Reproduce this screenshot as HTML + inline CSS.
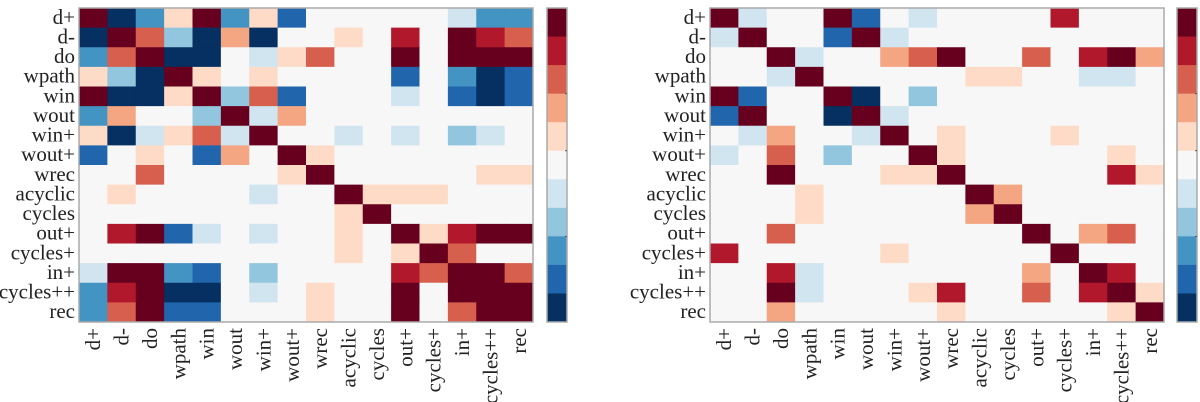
<!DOCTYPE html>
<html><head><meta charset="utf-8"><style>
html,body{margin:0;padding:0;background:#fff;width:1200px;height:402px;overflow:hidden}
svg text{font-family:"Liberation Serif","Times New Roman",Times,"DejaVu Serif",serif;font-size:21px;fill:#222}
</style></head><body>
<svg id="chart" width="1200" height="402" xmlns="http://www.w3.org/2000/svg"></svg>
<script>
const labels=["d+","d-","do","wpath","win","wout","win+","wout+","wrec","acyclic","cycles","out+","cycles+","in+","cycles++","rec"];
const levels=[-5,-4,-3,-2,-1,0,1,2,3,4,5];
const palette=["#053061","#2166ac","#4393c3","#92c5de","#d1e5f0","#f7f7f7","#fddbc7","#f4a582","#d6604d","#b2182b","#67001f"];
const leftMatrix=[
[5,-5,-3,1,5,-3,1,-4,0,0,0,0,0,-1,-3,-3],
[-5,5,3,-2,-5,2,-5,0,0,1,0,4,0,5,4,3],
[-3,3,5,-5,-5,0,-1,1,3,0,0,5,0,5,5,5],
[1,-2,-5,5,1,0,1,0,0,0,0,-4,0,-3,-5,-4],
[5,-5,-5,1,5,-2,3,-4,0,0,0,-1,0,-4,-5,-4],
[-3,2,0,0,-2,5,-1,2,0,0,0,0,0,0,0,0],
[1,-5,-1,1,3,-1,5,0,0,-1,0,-1,0,-2,-1,0],
[-4,0,1,0,-4,2,0,5,1,0,0,0,0,0,0,0],
[0,0,3,0,0,0,0,1,5,0,0,0,0,0,1,1],
[0,1,0,0,0,0,-1,0,0,5,1,1,1,0,0,0],
[0,0,0,0,0,0,0,0,0,1,5,0,0,0,0,0],
[0,4,5,-4,-1,0,-1,0,0,1,0,5,1,4,5,5],
[0,0,0,0,0,0,0,0,0,1,0,1,5,3,0,0],
[-1,5,5,-3,-4,0,-2,0,0,0,0,4,3,5,5,3],
[-3,4,5,-5,-5,0,-1,0,1,0,0,5,0,5,5,5],
[-3,3,5,-4,-4,0,0,0,1,0,0,5,0,3,5,5]];
const rightMatrix=[
[5,-1,0,0,5,-4,0,-1,0,0,0,0,4,0,0,0],
[-1,5,0,0,-4,5,-1,0,0,0,0,0,0,0,0,0],
[0,0,5,-1,0,0,2,3,5,0,0,3,0,4,5,2],
[0,0,-1,5,0,0,0,0,0,1,1,0,0,-1,-1,0],
[5,-4,0,0,5,-5,0,-2,0,0,0,0,0,0,0,0],
[-4,5,0,0,-5,5,-1,0,0,0,0,0,0,0,0,0],
[0,-1,2,0,0,-1,5,0,1,0,0,0,1,0,0,0],
[-1,0,3,0,-2,0,0,5,1,0,0,0,0,0,1,0],
[0,0,5,0,0,0,1,1,5,0,0,0,0,0,4,1],
[0,0,0,1,0,0,0,0,0,5,2,0,0,0,0,0],
[0,0,0,1,0,0,0,0,0,2,5,0,0,0,0,0],
[0,0,3,0,0,0,0,0,0,0,0,5,0,2,3,0],
[4,0,0,0,0,0,1,0,0,0,0,0,5,0,0,0],
[0,0,4,-1,0,0,0,0,0,0,0,2,0,5,4,0],
[0,0,5,-1,0,0,0,1,4,0,0,3,0,4,5,1],
[0,0,2,0,0,0,0,0,1,0,0,0,0,0,1,5]];

const NS="http://www.w3.org/2000/svg";
const svg=document.getElementById("chart");
function mk(tag,attrs,parent){const e=document.createElementNS(NS,tag);for(const k in attrs)e.setAttribute(k,attrs[k]);(parent||svg).appendChild(e);return e;}
function color(v){return palette[levels.indexOf(v)];}

function drawPanel(matrix,x0,x1,cbx,name){
  const y0=8,y1=322;
  const n=labels.length;
  const cw=(x1-x0)/n,ch=(y1-y0)/n;
  const xs=i=>x0+i*cw, ys=j=>y0+j*ch;
  const g=mk("g",{});
  
  
  mk("rect",{x:x0,y:y0,width:x1-x0,height:y1-y0,fill:"#f7f7f7"},g);
  matrix.forEach((row,r)=>row.forEach((v,c)=>{
    const cell=mk("rect",{x:xs(c),y:ys(r),width:cw+0.5,height:ch+0.5,fill:color(v)},g);
    
    
  }));
  const fr=mk("rect",{x:x0,y:y0,width:x1-x0,height:y1-y0,fill:"none",stroke:"#aaa","stroke-width":1.5},g);
  
  
  labels.forEach((l,i)=>{
    const t=mk("text",{x:x0-4,y:ys(i)+ch/2+6,"text-anchor":"end"},g);t.textContent=l;
    
    
    const cx=xs(i)+cw/2+7;
    const u=mk("text",{x:0,y:0,"text-anchor":"end",transform:`translate(${cx},${y1+6}) rotate(-90)`},g);u.textContent=l;
    
    
  });
  const cb=mk("g",{},g);
  
  
  const bh=(y1-y0)/palette.length;
  for(let k=0;k<palette.length;k++){
    mk("rect",{x:cbx,y:y0+k*bh,width:20,height:bh+0.5,fill:palette[palette.length-1-k]},cb);
  }
  mk("rect",{x:cbx,y:y0,width:20,height:y1-y0,fill:"none",stroke:"#aaa","stroke-width":1.5},cb);
  [3,5,8].forEach(k=>mk("line",{x1:cbx+18,x2:cbx+20,y1:y0+k*bh,y2:y0+k*bh,stroke:"#555"},cb));
}
drawPanel(leftMatrix,79,533,547,"left-heatmap");
drawPanel(rightMatrix,710,1164,1177,"right-heatmap");
</script>
</body></html>
